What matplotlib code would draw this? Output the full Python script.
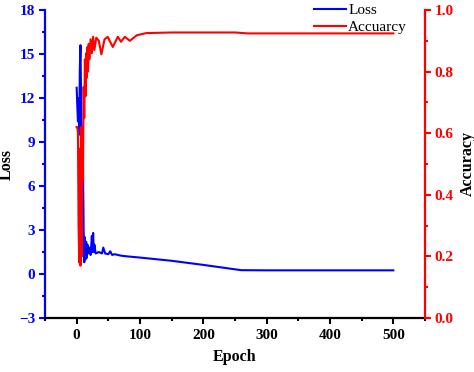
import matplotlib
matplotlib.use('Agg')
import matplotlib.pyplot as plt
from matplotlib.ticker import MultipleLocator

# values
loss_epoch = [0, 1, 2, 3, 4, 5, 6, 7, 8, 9, 10, 11, 12, 13, 14, 15, 16, 17, 18,
              20, 22, 24, 25, 26, 27, 28, 30, 35, 40, 42, 45, 50, 53, 56, 60, 65,
              70, 80, 100, 150, 200, 240, 260, 300, 400, 500]
loss = [12.7, 11.5, 10.4, 12.0, 9.5, 14.0, 15.6, 12.0, 8.5, 5.5, 7.3, 3.0, 0.8,
        2.5, 1.0, 2.2, 1.1, 2.0, 1.4, 1.8, 1.3, 2.6, 1.5, 2.8, 1.5, 2.0, 1.4,
        1.5, 1.4, 1.8, 1.4, 1.35, 1.55, 1.3, 1.35, 1.3, 1.25, 1.2, 1.12, 0.9,
        0.62, 0.38, 0.26, 0.25, 0.25, 0.25]

acc_epoch = [0, 1, 2, 3, 4, 5, 6, 7, 8, 9, 10, 11, 12, 13, 14, 15, 16, 17, 18,
             19, 20, 22, 24, 26, 28, 31, 35, 39, 44, 49, 57, 65, 70, 76, 84, 95,
             110, 150, 250, 270, 500]
acc = [0.62, 0.62, 0.60, 0.30, 0.18, 0.55, 0.17, 0.62, 0.20, 0.62, 0.45, 0.75,
       0.65, 0.84, 0.72, 0.86, 0.78, 0.88, 0.80, 0.89, 0.84, 0.905, 0.86, 0.913,
       0.87, 0.91, 0.90, 0.856, 0.905, 0.913, 0.88, 0.913, 0.897, 0.913, 0.90,
       0.918, 0.925, 0.927, 0.927, 0.924, 0.924]

blue = '#0000ff'
red = '#ff0000'
plt.rcParams['font.family'] = ['Liberation Serif', 'DejaVu Serif']

fig = plt.figure(figsize=(4.74, 3.72), dpi=100)
ax = fig.add_subplot(111)
fig.subplots_adjust(left=45/474, right=425/474, top=1 - 10/372, bottom=1 - 318/372)
ax2 = ax.twinx()

l1, = ax.plot(loss_epoch, loss, color=blue, lw=1.5, label='Loss')
l2, = ax2.plot(acc_epoch, acc, color=red, lw=1.5, label='Accuarcy')

ax.set_xlim(-50, 550)
ax.set_ylim(-3, 18)
ax2.set_ylim(0, 1.0)
ax.xaxis.set_major_locator(MultipleLocator(100))
ax.xaxis.set_minor_locator(MultipleLocator(50))
ax.yaxis.set_major_locator(MultipleLocator(3))
ax.yaxis.set_minor_locator(MultipleLocator(1.5))
ax2.yaxis.set_major_locator(MultipleLocator(0.2))
ax2.yaxis.set_minor_locator(MultipleLocator(0.1))
ax2.yaxis.set_major_formatter(plt.FormatStrFormatter('%.1f'))

for a in (ax, ax2):
    a.spines['top'].set_visible(False)
ax.spines['right'].set_visible(False)
ax2.spines['left'].set_visible(False)
ax2.spines['bottom'].set_visible(False)
ax.spines['left'].set_color(blue)
ax2.spines['right'].set_color(red)
ax.spines['bottom'].set_color('black')
for s in ('left', 'bottom'):
    ax.spines[s].set_linewidth(1.6)
ax2.spines['right'].set_linewidth(1.6)

ax.tick_params(axis='y', which='both', colors=blue, width=1.5, direction='out', pad=3)
ax.tick_params(axis='y', which='major', length=4)
ax.tick_params(axis='y', which='minor', length=2)
ax2.tick_params(axis='y', which='both', colors=red, width=1.5, direction='out', pad=3)
ax2.tick_params(axis='y', which='major', length=4)
ax2.tick_params(axis='y', which='minor', length=2)
ax.tick_params(axis='x', which='major', length=4, width=1.5, pad=4)
ax.tick_params(axis='x', which='minor', length=2, width=1.5)

for lab in ax.get_xticklabels() + ax.get_yticklabels() + ax2.get_yticklabels():
    lab.set_fontweight('bold')
    lab.set_fontsize(11)

ax.set_xlabel('Epoch', fontsize=11.5, fontweight='bold', labelpad=5)
ax.set_ylabel('Loss', fontsize=11.5, fontweight='bold', labelpad=3)
ax2.set_ylabel('Accuracy', fontsize=11.5, fontweight='bold', labelpad=4)

fig.legend([l1, l2], ['Loss', 'Accuarcy'], loc='upper right',
           bbox_to_anchor=(416/474, 1.015), frameon=False, fontsize=11,
           handlelength=2.1, handletextpad=0.15, labelspacing=0.2,
           borderpad=0.1)

fig.savefig('out.png', dpi=100)
